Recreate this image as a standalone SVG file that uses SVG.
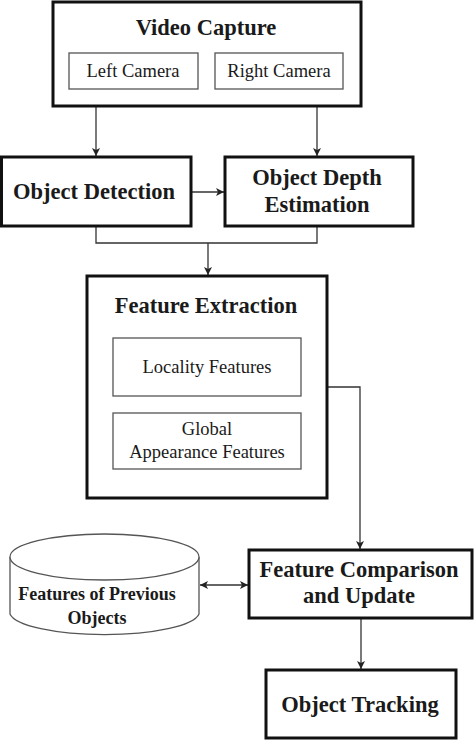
<svg xmlns="http://www.w3.org/2000/svg" width="474" height="740" viewBox="0 0 474 740">
<style>
.box{fill:#fff;stroke:#111;stroke-width:3}
.sub{fill:#fff;stroke:#555;stroke-width:1.3}
.t{font-family:"Liberation Serif","Times New Roman","DejaVu Serif",serif;fill:#1a1a1a;text-anchor:middle}
.b{font-weight:bold;font-size:22.5px}
.r{font-weight:normal;font-size:18.5px}
.sb{font-weight:bold;font-size:18px}
.c{fill:none;stroke:#333;stroke-width:1.3}
</style>
<defs>
<marker id="ah" markerWidth="10" markerHeight="10" refX="9" refY="5" orient="auto" markerUnits="userSpaceOnUse">
<path d="M1,1 L9,5 L1,9 L3,5 Z" fill="#222"/>
</marker>
<marker id="ahs" markerWidth="10" markerHeight="10" refX="1" refY="5" orient="auto" markerUnits="userSpaceOnUse">
<path d="M9,1 L1,5 L9,9 L7,5 Z" fill="#222"/>
</marker>
</defs>
<rect width="474" height="740" fill="#fff"/>
<g id="connectors">
<path class="c" d="M96,89 V156" marker-end="url(#ah)"/>
<path class="c" d="M317,89 V156" marker-end="url(#ah)"/>
<path class="c" d="M191,192 H224" marker-end="url(#ah)"/>
<path class="c" d="M96,226 V243 H317 V226"/>
<path class="c" d="M208,243 V275" marker-end="url(#ah)"/>
<path class="c" d="M327,387 H360 V549" marker-end="url(#ah)"/>
<path class="c" d="M200,585 H248" marker-start="url(#ahs)" marker-end="url(#ah)"/>
<path class="c" d="M361,618 V669" marker-end="url(#ah)"/>
</g>
<g id="video-capture">
<rect class="box" x="53" y="2" width="308" height="104"/>
<text class="t b" x="206" y="35">Video Capture</text>
</g>
<g id="left-camera">
<rect class="sub" x="69" y="53" width="129" height="36"/>
<text class="t r" x="133" y="77">Left Camera</text>
</g>
<g id="right-camera">
<rect class="sub" x="215" y="53" width="128" height="36"/>
<text class="t r" x="279" y="77">Right Camera</text>
</g>
<g id="object-detection">
<rect class="box" x="1.5" y="157" width="189.5" height="69"/>
<text class="t b" x="94" y="199">Object Detection</text>
</g>
<g id="object-depth">
<rect class="box" x="225" y="157" width="188" height="69"/>
<text class="t b" x="317" y="185">Object Depth</text>
<text class="t b" x="317" y="212">Estimation</text>
</g>
<g id="feature-extraction">
<rect class="box" x="87" y="276" width="240" height="222"/>
<text class="t b" x="206" y="313">Feature Extraction</text>
</g>
<g id="locality-features">
<rect class="sub" x="113" y="338" width="188" height="58"/>
<text class="t r" x="207" y="373">Locality Features</text>
</g>
<g id="global-features">
<rect class="sub" x="113" y="413" width="188" height="56"/>
<text class="t r" x="207" y="435">Global</text>
<text class="t r" x="207" y="458">Appearance Features</text>
</g>
<g id="previous-features">
<path d="M10,557 V614 A95,23 0 0 0 199,614 V557" fill="#fff" stroke="#555" stroke-width="1.3"/>
<ellipse cx="104.5" cy="557" rx="94.5" ry="23" fill="#fff" stroke="#555" stroke-width="1.3"/>
<text class="t sb" x="97" y="600">Features of Previous</text>
<text class="t sb" x="97" y="624">Objects</text>
</g>
<g id="feature-comparison">
<rect class="box" x="249" y="550" width="223" height="68"/>
<text class="t b" x="359" y="577">Feature Comparison</text>
<text class="t b" x="359" y="603">and Update</text>
</g>
<g id="object-tracking">
<rect class="box" x="266" y="670" width="190" height="68"/>
<text class="t b" x="360" y="712">Object Tracking</text>
</g>
</svg>
